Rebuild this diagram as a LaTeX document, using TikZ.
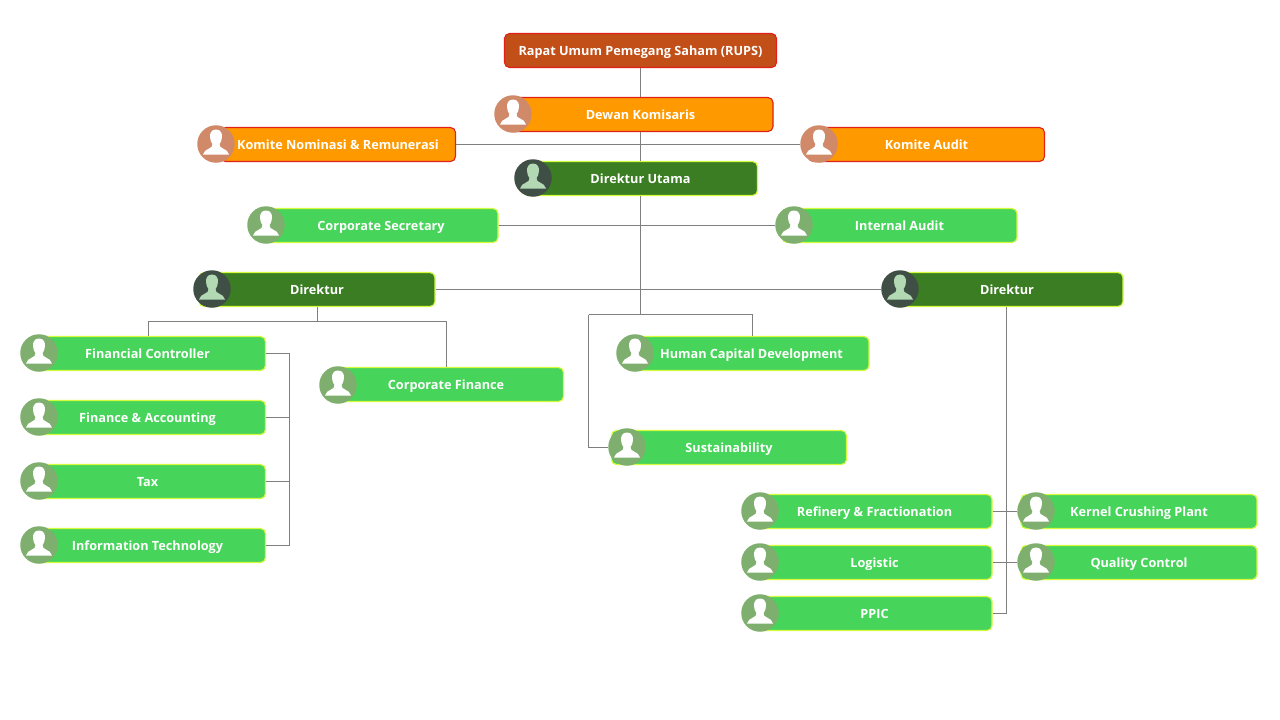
\documentclass[tikz,border=0pt]{standalone}
\usepackage{fontspec}
\setmainfont{Open Sans}
\definecolor{linegray}{HTML}{7F7F7F}
\definecolor{rupsfill}{HTML}{C24F17}
\definecolor{redline}{HTML}{E0201A}
\definecolor{orangefill}{HTML}{FF9900}
\definecolor{darkfill}{HTML}{3B7D23}
\definecolor{greenfill}{HTML}{47D45A}
\definecolor{limeline}{HTML}{D4FA3C}
\definecolor{orangeava}{HTML}{D08A6A}
\definecolor{darkava}{HTML}{3F4F45}
\definecolor{greenava}{HTML}{7FAF6E}
\definecolor{darkman}{HTML}{B2D8B4}
\tikzset{
  x=1pt,y=-1pt,
  base box/.style={rectangle,rounded corners=5pt,minimum height=34pt,inner sep=0pt,line width=1.1pt,
    text height=10.5pt,text depth=1.5pt,
    text=white,font=\fontsize{12.7}{15}\selectfont\bfseries},
  rups box/.style={base box,draw=redline,fill=rupsfill},
  orange box/.style={base box,draw=redline,fill=orangefill},
  dark box/.style={base box,draw=limeline,fill=darkfill},
  green box/.style={base box,draw=limeline,fill=greenfill},
  base ava/.style={circle,minimum size=37.5pt,inner sep=0pt,draw=none},
  orange ava/.style={base ava,fill=orangeava},
  dark ava/.style={base ava,fill=darkava},
  green ava/.style={base ava,fill=greenava},
  orange man/.style={fill=white},
  dark man/.style={fill=darkman},
  green man/.style={fill=white},
  person/.pic={
    \fill[pic actions] (0,-14.5) .. controls (-5,-14.5) and (-6.2,-10.5) .. (-5.9,-7)
      .. controls (-5.7,-3.5) and (-4.5,-1) .. (-3.6,0)
      .. controls (-3.4,2.5) and (-4.5,3.5) .. (-7,4.5)
      .. controls (-10,5.5) and (-12,7.5) .. (-13,10.5)
      -- (13,10.5)
      .. controls (12,7.5) and (10,5.5) .. (7,4.5)
      .. controls (4.5,3.5) and (3.4,2.5) .. (3.6,0)
      .. controls (4.5,-1) and (5.7,-3.5) .. (5.9,-7)
      .. controls (6.2,-10.5) and (5,-14.5) .. (0,-14.5) -- cycle;
  },
  link/.style={draw=linegray,line width=1pt}
}
% class, name, centre x, width, centre y, avatar x, avatar y, text
\newcommand{\orgunit}[8]{%
  \node[#1 box,minimum width=#4pt] (#2) at (#3,#5) {#8};
  \node[#1 ava] (#2c) at (#6,#7) {};
  \pic[#1 man] at (#6,#7) {person};
}
\begin{document}
\begin{tikzpicture}
\useasboundingbox (0,0) rectangle (1280,720);
\fill[white] (0,0) rectangle (1280,720);

\node[rups box,minimum width=272pt] (rups) at (640.5,50.5) {Rapat Umum Pemegang Saham (RUPS)};
\orgunit{orange}{dewan}{640.5}{265}{114.5}{513}{114}{Dewan Komisaris}
\orgunit{orange}{nomin}{338}{235}{144.5}{216}{144}{Komite Nominasi \& Remunerasi}
\orgunit{orange}{audit}{926.5}{236}{144.5}{819}{144}{Komite Audit}
\orgunit{dark}{utama}{640.5}{234}{178.5}{533}{178}{Direktur Utama}
\orgunit{green}{sec}{381}{234}{225.5}{266}{225}{Corporate Secretary}
\orgunit{green}{internal}{899.5}{235}{225.5}{794}{225}{Internal Audit}
\orgunit{dark}{dirl}{317}{236}{289.5}{212}{289}{Direktur}
\orgunit{dark}{dirr}{1007}{232}{289.5}{900}{289}{Direktur}
\orgunit{green}{fc}{147.5}{236}{353.5}{39}{353}{Financial Controller}
\orgunit{green}{fa}{147.5}{236}{417.5}{39}{417}{Finance \& Accounting}
\orgunit{green}{tax}{147.5}{236}{481.5}{39}{481}{Tax}
\orgunit{green}{it}{147.5}{236}{545.5}{39}{545}{Information Technology}
\orgunit{green}{cf}{446}{235}{384.5}{338}{385}{Corporate Finance}
\orgunit{green}{hcd}{751.5}{235}{353.5}{635}{353}{Human Capital Development}
\orgunit{green}{sus}{729}{235}{447.5}{627}{447}{Sustainability}
\orgunit{green}{ref}{874.5}{235}{511.5}{760}{511}{Refinery \& Fractionation}
\orgunit{green}{log}{874.5}{235}{562.5}{760}{562}{Logistic}
\orgunit{green}{ppic}{874.5}{235}{613.5}{760}{613}{PPIC}
\orgunit{green}{kcp}{1139}{236}{511.5}{1036}{511}{Kernel Crushing Plant}
\orgunit{green}{qc}{1139}{236}{562.5}{1036}{562}{Quality Control}

\coordinate (trunkend) at (640.5,314.5);
\coordinate (forkl) at (588.5,314.5);
\coordinate (forkr) at (752.5,314.5);
\coordinate (dirlfork) at (317.5,321.5);
\coordinate (fcdrop) at (148.5,321.5);
\coordinate (finbus) at (289.5,353.5);
\coordinate (rbus) at (1006.5,613.5);

\draw[link] (rups.south) -- (dewan.north);
\draw[link] (dewan.south) -- (utama.north);
\draw[link] (nomin.east) -- (nomin.east -| auditc.west);
\draw[link] (utama.south) -- (trunkend);
\draw[link] (sec.east) -- (sec.east -| internalc.west);
\draw[link] (dirl.east) -- (dirl.east -| dirrc.west);
\draw[link] (forkl) -- (forkr);
\draw[link] (forkl) |- (susc.west);
\draw[link] (forkr) -- (forkr |- hcd.north);
\draw[link] (dirl.south -| dirlfork) -- (dirlfork);
\draw[link] (fc.north -| fcdrop) -- (fcdrop) -- (fcdrop -| cf.north) -- (cf.north);
\draw[link] (fc.east) -| (finbus |- it.east) -- (it.east);
\draw[link] (fa.east) -- (fa.east -| finbus);
\draw[link] (tax.east) -- (tax.east -| finbus);
\draw[link] (dirr.south -| rbus) -- (rbus) -- (ppic.east);
\draw[link] (ref.east) -- (ref.east -| kcpc.west);
\draw[link] (log.east) -- (log.east -| qcc.west);
\end{tikzpicture}
\end{document}
